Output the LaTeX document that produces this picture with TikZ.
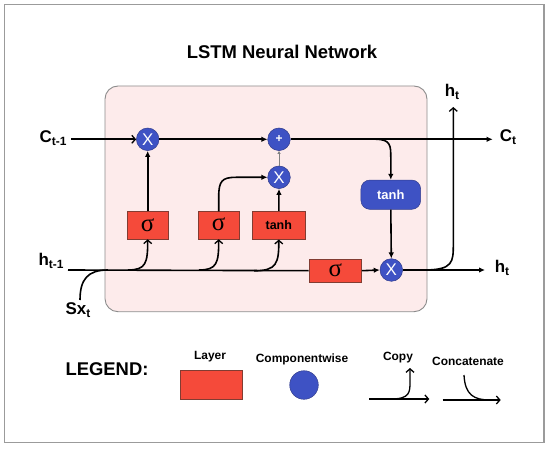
\documentclass[tikz,border=0pt]{standalone}
\usepackage{fontspec}
\setmainfont{Liberation Sans}
\newfontfamily\sigfont{Liberation Serif}
\usetikzlibrary{arrows.meta}
\definecolor{lred}{RGB}{245,74,58}
\definecolor{lredline}{RGB}{130,60,50}
\definecolor{lblue}{RGB}{62,82,196}
\definecolor{lblueline}{RGB}{50,60,140}
\definecolor{pinkbg}{RGB}{253,235,235}
\definecolor{boxgray}{RGB}{140,140,140}
\definecolor{framegray}{RGB}{155,155,155}
\newcommand{\fsz}[1]{\fontsize{#1}{#1}\selectfont}
\newcommand{\lsub}[1]{\raisebox{-2.5bp}{\fsz{12}#1}}
\newcommand{\sig}{{\sigfont\fsz{25}σ}}
\tikzset{
  layerbox/.style={draw=lredline, fill=lred, line width=0.7bp, inner sep=0, minimum width=#1},
  layerbox/.default=40.7bp,
  compnode/.style={circle, fill=lblue, draw=lblueline, line width=0.5bp, minimum size=22.6bp, inner sep=0, text=white, font=\fsz{17}},
  flow/.style={line width=1.6bp, black},
  thinflow/.style={line width=1.3bp, black},
  fa/.style={-{Latex[length=6bp,width=5.5bp]}},
  oa/.style={-{Straight Barb[length=3.5bp,width=8bp,line width=1.3bp]}},
  lab/.style={font=\bfseries\fsz{17}, inner sep=0},
  leglab/.style={font=\bfseries\fsz{12}, inner sep=0},
}
\begin{document}
\begin{tikzpicture}[x=1bp,y=-1bp]
\useasboundingbox (0,0) rectangle (550,450);
\draw[framegray, line width=1.4bp] (4.7,4.7) rectangle (544,442.7);
\node[font=\bfseries\fsz{18.5}, inner sep=0] (title) at (282,52) {LSTM Neural Network};
\draw[boxgray, fill=pinkbg, line width=0.9bp, rounded corners=13bp] (105,86) rectangle (427,311.7);

% components
\node[compnode] (X1) at (147.7,139.3) {X};
\node[compnode, font=\bfseries\fsz{12}] (P) at (279,139.3) {+};
\node[compnode] (X2) at (279,177.3) {X};
\node[compnode] (X3) at (391.3,270) {X};
% layers
\node[layerbox, minimum height=27.3bp] (S1) at (147.7,225.3) {\sig};
\node[layerbox, minimum height=27.3bp] (S2) at (218.7,225.3) {\raisebox{2bp}{\sig}};
\node[layerbox=52.3bp, minimum height=28bp, font=\bfseries\fsz{12.5}] (T1) at (278.8,225.2) {tanh};
\node[layerbox=52.7bp, minimum height=23.3bp] (S3) at (335.3,270.7) {\sig};
\node[fill=lblue, draw=lblueline, line width=0.5bp, rounded corners=9bp, minimum width=59.7bp, minimum height=29.3bp, inner sep=0, text=white, font=\bfseries\fsz{13}] (T2) at (390.8,194.7) {tanh};

% labels
\node[lab] (lCin) at (53,138) {C\lsub{t-1}};
\node[lab] (lCout) at (508,137) {C\lsub{t}};
\node[lab] (lhup) at (452,92) {h\lsub{t}};
\node[lab] (lhout) at (502,268) {h\lsub{t}};
\node[lab] (lhin) at (51,261) {h\lsub{t-1}};
\node[lab] (lSx) at (78,310) {Sx\lsub{t}};

% coordinates
\coordinate (cin) at (71,139.3);
\coordinate (cout) at (492.7,139.3);
\coordinate (hin) at (68,270);
\coordinate (hout) at (485,270);
\coordinate (hup) at (453.3,107);
\coordinate (sxs) at (80,300);

% cell state line
\draw[flow, oa] (cin) -- (X1.west);
\draw[flow, fa] (X1.east) -- (P.west);
\draw[flow, fa] (P.east) -- (cout);
\draw[flow, fa] (376,139.3) .. controls (390.8,139.3) and (390.8,146) .. (390.8,158) -- (T2.north);
\draw[flow, fa] (T2.south) -- (X3.north);

% gates
\draw[flow, fa] (S1.north) -- (X1.south);
\draw[flow, fa] (S2.north) -- (218.7,197) .. controls (218.7,181) and (222,177.3) .. (236,177.3) -- (X2.west);
\draw[flow, fa] (T1.north) -- (X2.south);
\draw[gray, line width=0.7bp, -{Latex[length=3bp,width=3.5bp]}] (X2.north) -- (P.south);

% hidden input line
\draw[flow] (hin) -- (S3.west);
\draw[flow] (sxs) .. controls (80,279) and (88,270) .. (108,270);
\draw[flow, oa] (128,270) .. controls (146,270) and (147.7,263) .. (S1.south);
\draw[flow, oa] (199,270) .. controls (217,270) and (218.7,263) .. (S2.south);
\draw[flow, oa] (254,270.8) .. controls (277,270.8) and (278.8,263) .. (T1.south);
\draw[flow, fa] (S3.east) -- (X3.west);
\draw[flow, fa] (X3.east) -- (hout);
\draw[flow, oa] (424,270) .. controls (453.3,270) and (453.3,262) .. (453.3,244) -- (hup);

% legend
\node[font=\bfseries\fsz{18.5}, inner sep=0] (legend) at (107,369) {LEGEND:};
\node[leglab] (lLayer) at (210,357) {Layer};
\draw[draw=lredline, fill=lred, line width=0.7bp] (180.7,370.7) rectangle (242.7,399);
\node[leglab] (lComp) at (302,359) {Componentwise};
\node[circle, fill=lblue, draw=lblueline, line width=0.5bp, minimum size=28.6bp, inner sep=0] (legC) at (304,385) {};
\node[leglab] (lCopy) at (398,358) {Copy};
\coordinate (cpa) at (369,399);
\coordinate (cpb) at (429.3,399);
\coordinate (cpc) at (410,368);
\draw[thinflow, oa] (cpa) -- (cpb);
\draw[thinflow, oa] (391,399) .. controls (410,399) and (410,392) .. (410,382) -- (cpc);
\node[leglab] (lConc) at (468,361) {Concatenate};
\coordinate (cca) at (442.7,400);
\coordinate (ccb) at (500.7,400);
\coordinate (ccc) at (464,375);
\draw[thinflow, oa] (cca) -- (ccb);
\draw[thinflow] (ccc) .. controls (465,395) and (474,400) .. (490,400);
\end{tikzpicture}
\end{document}
